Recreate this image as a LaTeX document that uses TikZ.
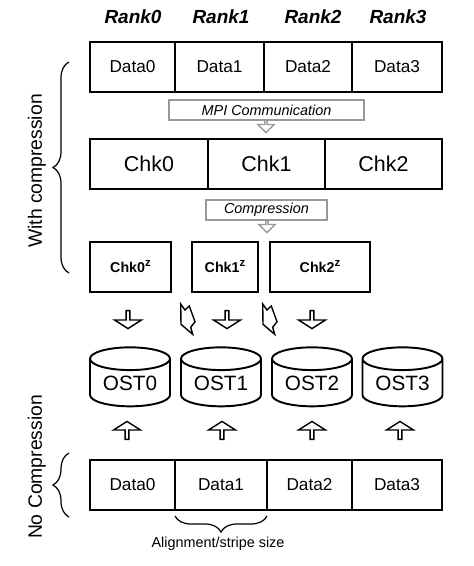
\documentclass[tikz,border=0pt]{standalone}
\usepackage{fontspec}
\setmainfont{Liberation Sans}
\usetikzlibrary{shapes.geometric, shapes.arrows, decorations.pathreplacing}
\newcommand{\zmark}{\raisebox{3.4pt}{\fontsize{6.5}{7}\selectfont z}}
\begin{document}
\begin{tikzpicture}[
    x=0.02cm, y=-0.02cm,
    rankhead/.style={font=\fontsize{10.8}{13}\selectfont\bfseries\itshape},
    block/.style={draw, line width=1.25pt, inner sep=0pt, outer sep=0pt, minimum height=1cm,
                  font=\fontsize{9.8}{12}\selectfont},
    chkblock/.style={block, font=\fontsize{12.2}{14}\selectfont},
    zblock/.style={block, font=\fontsize{8.1}{10}\selectfont\bfseries},
    stepbox/.style={draw=black!40, line width=0.8pt, fill=white, inner sep=0pt, minimum height=0.4cm,
                    font=\fontsize{8.2}{10}\selectfont\itshape},
    ost/.style={draw, cylinder, shape border rotate=90, aspect=0.42, line width=1.1pt, inner sep=0pt,
                minimum width=1.6cm, minimum height=1.18cm, font=\fontsize{11.8}{14}\selectfont},
    grayarrow/.style={draw=black!40, line width=0.8pt, single arrow, shape border rotate=270, inner sep=0pt,
                      minimum width=0.32cm, minimum height=0.28cm, single arrow head extend=0.09cm,
                      single arrow head indent=0pt},
    downarrow/.style={draw, line width=0.8pt, single arrow, shape border rotate=270, inner sep=0pt,
                      minimum width=0.54cm, minimum height=0.36cm, single arrow head extend=0.09cm,
                      single arrow head indent=0pt, single arrow tip angle=115},
    uparrow/.style={downarrow, shape border rotate=90},
    torn/.style={draw, line width=0.8pt, line join=miter},
    sidelbl/.style={rotate=90, font=\fontsize{11}{13}\selectfont},
    sidebrace/.style={draw, line width=0.7pt, decorate, decoration={brace, amplitude=0.32cm}}
]
    \useasboundingbox (0,0) rectangle (474,566);

    % Rank headers
    \node[rankhead] (r0) at (133, 17) {Rank0};
    \node[rankhead] (r1) at (221, 17) {Rank1};
    \node[rankhead] (r2) at (313, 17) {Rank2};
    \node[rankhead] (r3) at (398, 17) {Rank3};

    % Data before communication
    \node[block, minimum width=1.7cm]  (d0) at (132.5, 67) {Data0};
    \node[block, minimum width=1.78cm] (d1) at (219.5, 67) {Data1};
    \node[block, minimum width=1.76cm] (d2) at (308, 67)   {Data2};
    \node[block, minimum width=1.8cm]  (d3) at (397, 67)   {Data3};

    % MPI step
    \node[grayarrow] (mpiarrow) at (266, 125) {};
    \node[stepbox, minimum width=3.9cm] (mpi) at (266.5, 110) {MPI Communication};

    % Chunks
    \node[chkblock, minimum width=2.36cm] (c0) at (149, 164)   {Chk0};
    \node[chkblock, minimum width=2.34cm] (c1) at (266.5, 164) {Chk1};
    \node[chkblock, minimum width=2.34cm] (c2) at (383.5, 164) {Chk2};

    % Compression step
    \node[grayarrow] (comparrow) at (267, 225) {};
    \node[stepbox, minimum width=2.42cm] (comp) at (266.5, 210) {Compression};

    % Compressed chunks
    \node[zblock, minimum width=1.62cm] (z0) at (130.5, 267) {Chk0\zmark};
    \node[zblock, minimum width=1.32cm] (z1) at (225, 267)   {Chk1\zmark};
    \node[zblock, minimum width=2cm]    (z2) at (320, 267)   {Chk2\zmark};

    % Arrows down to the targets
    \node[downarrow] (dn0) at (128, 319) {};
    \node[downarrow] (dn1) at (227, 319) {};
    \node[downarrow] (dn2) at (312, 319) {};
    \path[torn] (180.7,304) -- (185,310) -- (189.3,306) -- (195,321.7) -- (190.7,327.3) -- (192.7,334.3) -- (181,324.3) -- cycle;
    \path[torn] (262.7,304) -- (267,310) -- (271.3,306) -- (277,321.7) -- (272.7,327.3) -- (274.7,334.3) -- (263,324.3) -- cycle;

    % Targets
    \node[ost] (o0) at (130, 383)   {OST0};
    \node[ost] (o1) at (221, 383)   {OST1};
    \node[ost] (o2) at (312, 383)   {OST2};
    \node[ost] (o3) at (402.5, 383) {OST3};

    % Arrows up from the plain data
    \node[uparrow] (up0) at (127, 431) {};
    \node[uparrow] (up1) at (222, 431) {};
    \node[uparrow] (up2) at (312, 431) {};
    \node[uparrow] (up3) at (400, 431) {};

    % Data without compression
    \node[block, minimum width=1.7cm]  (b0) at (132.5, 485) {Data0};
    \node[block, minimum width=1.84cm] (b1) at (221, 485)   {Data1};
    \node[block, minimum width=1.7cm]  (b2) at (309.5, 485) {Data2};
    \node[block, minimum width=1.8cm]  (b3) at (397, 485)   {Data3};

    % Braces
    \coordinate (wtop) at (69, 62);
    \coordinate (wbot) at (69, 273);
    \coordinate (ntop) at (69, 453);
    \coordinate (nbot) at (69, 517);
    \coordinate (sleft) at (175, 516);
    \coordinate (sright) at (267, 516);
    \draw[sidebrace] (wbot) -- (wtop);
    \draw[sidebrace] (nbot) -- (ntop);
    \draw[sidebrace] (sright) -- (sleft);

    \node[sidelbl] (wlbl) at (37, 171) {With compression};
    \node[sidelbl] (nlbl) at (37, 467) {No Compression};
    \node[font=\fontsize{8.2}{10}\selectfont] (slbl) at (218, 544) {Alignment/stripe size};
\end{tikzpicture}
\end{document}
